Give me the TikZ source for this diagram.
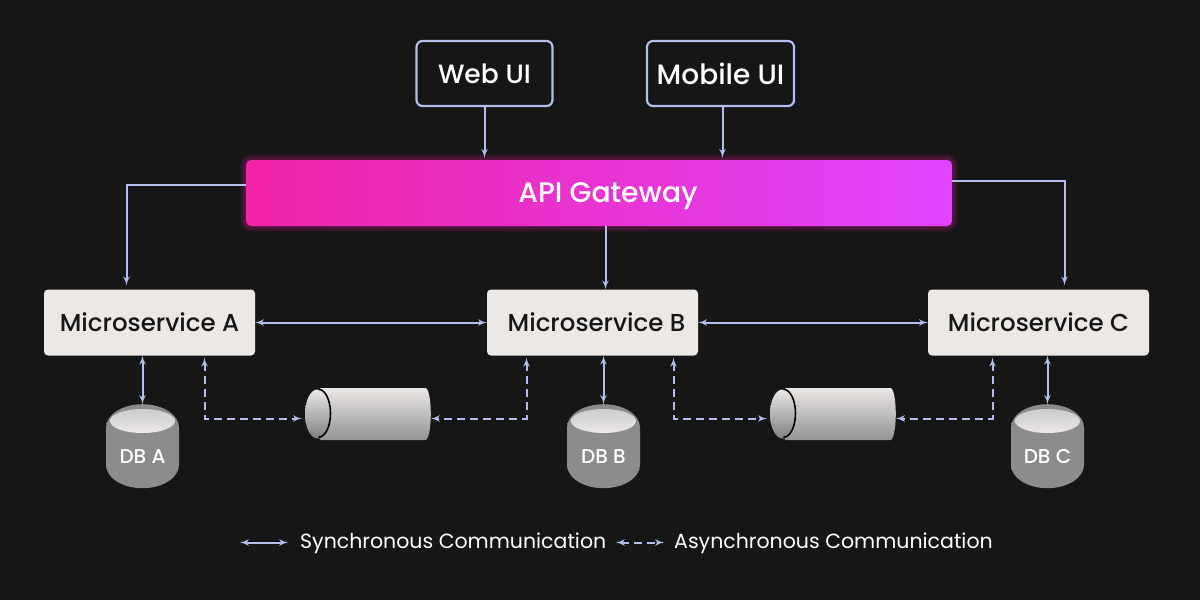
\documentclass[tikz,border=0pt]{standalone}
\usepackage{fontspec}
\setmainfont{Poppins}
\newfontfamily\poppinsmed{Poppins Medium}
\usetikzlibrary{arrows,shapes.geometric,backgrounds}
\definecolor{bgdark}{HTML}{161616}
\definecolor{linkblue}{HTML}{B3BEEC}
\definecolor{boxgrey}{HTML}{EBE8E6}
\definecolor{gwpink}{HTML}{F123A6}
\definecolor{gwviolet}{HTML}{E044FF}
\tikzstyle{every node}=[font=\poppinsmed\fontsize{24.5}{28}\selectfont]
\tikzstyle{uibox}=[rectangle,
                   rounded corners=6pt,
                   line width=2.2pt,
                   draw=linkblue,
                   text=white,
                   minimum height=65pt,
                   font=\poppinsmed\fontsize{26.5}{32}\selectfont]
\tikzstyle{gateway}=[rectangle,
                     rounded corners=5pt,
                     left color=gwpink,
                     right color=gwviolet,
                     text=white,
                     text depth=0pt,
                     minimum width=706pt,
                     minimum height=66pt,
                     font=\poppinsmed\fontsize{28.3}{30}\selectfont]
\tikzstyle{service}=[rectangle,
                     rounded corners=4pt,
                     fill=boxgrey,
                     text=bgdark,
                     minimum width=211pt,
                     minimum height=66pt]
\tikzstyle{dbdrum}=[cylinder,
                    anchor=north,
                    shape border rotate=90,
                    aspect=7,
                    top color=gray!90,
                    middle color=black!55,
                    bottom color=gray!90,
                    minimum width=73pt,
                    minimum height=84pt]
\tikzstyle{dbtop}=[ellipse,
                   top color=gray!40,
                   bottom color=boxgrey,
                   minimum width=65pt,
                   minimum height=24pt]
\tikzstyle{queue}=[cylinder,
                   anchor=east,
                   shape border rotate=180,
                   aspect=1.6,
                   top color=boxgrey,
                   middle color=gray!40,
                   bottom color=gray!85,
                   minimum width=52pt,
                   minimum height=115pt]
\tikzstyle{queueend}=[ellipse,
                      top color=boxgrey,
                      bottom color=gray,
                      minimum width=25pt,
                      minimum height=49pt]
\tikzstyle{legend}=[text=white,inner sep=0pt,text depth=0pt,font=\fontsize{20.5}{24}\selectfont]
\tikzstyle{syncline}=[<->,line width=2pt,linkblue]
\tikzstyle{oneway}=[->,line width=2pt,linkblue]
\tikzstyle{asyncline}=[<->,line width=2pt,linkblue,dash pattern=on 8pt off 5pt]
\begin{document}
\begin{tikzpicture}[x=1pt,y=-1pt,>=latex']
\node (web)   [uibox,minimum width=136pt] at (484.5,73.5) {Web UI};
\node (mobile)   [uibox,minimum width=147pt,font=\poppinsmed\fontsize{28}{32}\selectfont,right of=web,node distance=236pt] {Mobile UI};
\node (gw)   [gateway] at (599,193) {\hspace{18pt}API Gateway};
\node (msb)   [service] at (592.5,322.5) {\hspace{8pt}Microservice B};
\node (msa)   [service,left of=msb,node distance=443pt] {Microservice A};
\node (msc)   [service,minimum width=221pt,right of=msb,node distance=446pt] {Microservice C\hspace{11pt}};
% databases
\node (dba)   [dbdrum] at (142.5,404) {};
\node (dbb)   [dbdrum] at (603.5,404) {};
\node (dbc)   [dbdrum] at (1047.5,404) {};
\foreach \db/\name in {dba/DB A,dbb/DB B,dbc/DB C} {
  \node (\db top)   [dbtop] at ([yshift=-17pt]\db.north) {};
  \node (\db text)   [text=white,font=\poppinsmed\fontsize{20}{22}\selectfont] at ([yshift=-53pt]\db.north) {\name};
}
% queues
\node (qa)   [queue] at (431,414) {};
\node (qb)   [queue] at (896,414) {};
\foreach \q in {qa,qb} {
  \node (\q end)   [queueend] at ([xshift=-113.5pt]\q.east) {};
  \draw[black,line width=1.6pt] ([xshift=1pt]\q end.north) arc[start angle=90,end angle=-90,x radius=12pt,y radius=24pt];
}
% links
\draw[oneway] (web.south) -- ([yshift=2pt]web.south |- gw.north);
\draw[oneway] ([xshift=2pt]mobile.south) -- ([xshift=2pt,yshift=2pt]mobile.south |- gw.north);
\draw[oneway] ([yshift=8.5pt]gw.west) -| ([xshift=-23pt,yshift=4pt]msa.north);
\draw[oneway] ([yshift=12.5pt]gw.east) -| ([xshift=26pt,yshift=4pt]msc.north);
\draw[oneway] ([xshift=6.5pt]gw.south) -- ([xshift=13pt]msb.north);
\path[syncline] (msa) edge (msb);
\path[syncline] (msb) edge (msc);
\draw[syncline] (dba.north |- msa.south) -- (dba.north);
\draw[syncline] (dbb.north |- msb.south) -- (dbb.north);
\draw[syncline] (dbc.north |- msc.south) -- (dbc.north);
\draw[asyncline] ([xshift=55pt,yshift=-2pt]msa.south) |- ([xshift=-3pt,yshift=-4.5pt]qaend.west);
\draw[asyncline] ([xshift=-66pt,yshift=-2pt]msb.south) |- ([yshift=-4.5pt]qa.east);
\draw[asyncline] ([xshift=81pt,yshift=-2pt]msb.south) |- ([xshift=-3pt,yshift=-4.5pt]qbend.west);
\draw[asyncline] ([xshift=-46pt,yshift=-2pt]msc.south) |- ([yshift=-4.5pt]qb.east);
% legend
\node (synctext)   [legend,anchor=west] at (300,541) {Synchronous Communication};
\node (asynctext)   [legend,anchor=west] at (674,541) {Asynchronous Communication};
\draw[syncline] ([xshift=-60pt,yshift=-1.5pt]synctext.west) -- ([xshift=-12pt,yshift=-1.5pt]synctext.west);
\draw[asyncline] ([xshift=-58pt,yshift=-1.5pt]asynctext.west) -- ([xshift=-10pt,yshift=-1.5pt]asynctext.west);
% background and glow
\begin{scope}[on background layer]
\path[use as bounding box,fill=bgdark] (0,0) rectangle (1200,600);
\foreach \w in {2,4,...,12} {
  \draw[gwpink,line width=\w pt,opacity=.06,rounded corners=6pt] (gw.south west) rectangle (gw.north east);
}
\end{scope}
\end{tikzpicture}
\end{document}
